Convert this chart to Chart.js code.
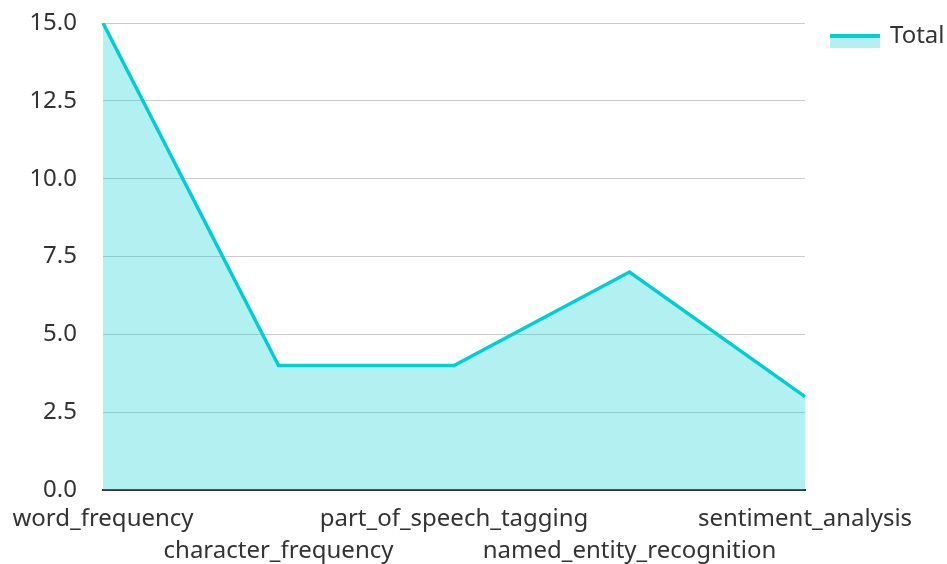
<!DOCTYPE html>
<html>
<head>
<meta charset="utf-8">
<script src="https://cdn.jsdelivr.net/npm/chart.js@4"></script>
<style>
  html, body { margin: 0; padding: 0; background: #fff; }
  #wrap { width: 947px; height: 564px; }
</style>
</head>
<body>
<div id="wrap"><canvas id="chart"></canvas></div>
<script>
// Data
const categories = ["word_frequency", "character_frequency", "part_of_speech_tagging", "named_entity_recognition", "sentiment_analysis"];
const totals = [15, 4, 4, 7, 3];
const seriesName = "Total";

const lineColor = "#00CED1";
const fillColor = "rgba(0, 206, 209, 0.3)";
const fontFamily = "'Noto Sans', 'Open Sans', sans-serif";

// stagger the x labels: odd ones go on a second line
const xLabels = categories.map((c, i) => (i % 2 ? ["", c] : c));

// simple legend drawn at the top right
const legendPlugin = {
  id: "sideLegend",
  afterDraw(chart) {
    const ctx = chart.ctx;
    const x = 830, y = 35;
    ctx.save();
    ctx.fillStyle = fillColor;
    ctx.fillRect(x, y, 50, 13);
    ctx.fillStyle = lineColor;
    ctx.fillRect(x, y - 1, 50, 4);
    ctx.fillStyle = "#333";
    ctx.font = "24px " + fontFamily;
    ctx.textBaseline = "middle";
    ctx.fillText(seriesName, x + 60, y + 1);
    ctx.restore();
  }
};

new Chart(document.getElementById("chart"), {
  type: "line",
  data: {
    labels: xLabels,
    datasets: [{
      label: seriesName,
      data: totals,
      borderColor: lineColor,
      backgroundColor: fillColor,
      borderWidth: 3.5,
      fill: "origin",
      tension: 0,
      pointRadius: 0
    }]
  },
  options: {
    responsive: true,
    maintainAspectRatio: false,
    animation: false,
    layout: { padding: { top: 23, right: 142, left: 0, bottom: 0 } },
    plugins: { legend: { display: false }, tooltip: { enabled: false } },
    scales: {
      x: {
        offset: false,
        grid: { display: false, drawTicks: false },
        border: { display: true, color: "#333", width: 2 },
        ticks: { color: "#333", font: { family: fontFamily, size: 24, lineHeight: 1.33 }, maxRotation: 0, autoSkip: false, padding: 13 },
        afterFit: s => { s.height = 74; s.paddingLeft = 0; s.paddingRight = 0; }
      },
      y: {
        min: 0,
        max: 15,
        grid: { color: "#ccc", lineWidth: 1, drawTicks: false },
        border: { display: false },
        ticks: {
          stepSize: 2.5,
          color: "#333",
          padding: 26,
          font: { family: fontFamily, size: 24 },
          callback: v => v.toFixed(1)
        },
        afterFit: s => { s.width = 103; s.paddingTop = 0; s.paddingBottom = 0; }
      }
    }
  },
  plugins: [legendPlugin]
});
</script>
</body>
</html>
